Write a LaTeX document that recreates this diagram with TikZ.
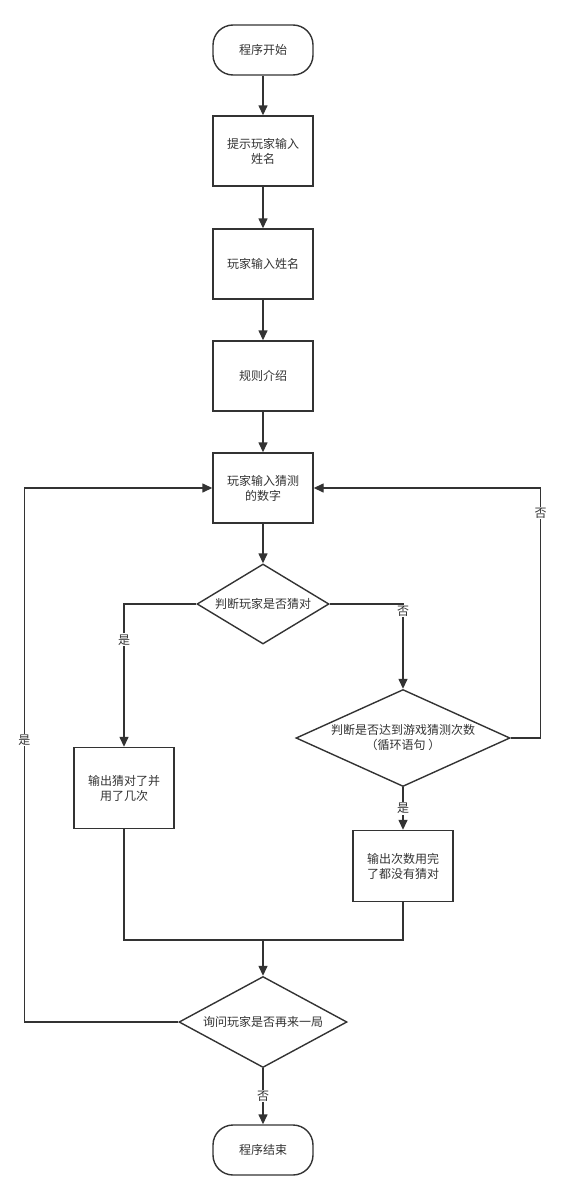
\documentclass[tikz,border=0pt]{standalone}
\usepackage{fontspec}
\setmainfont{Noto Sans CJK SC}
\usepackage{tikz}
\usetikzlibrary{calc,arrows.meta,shapes.geometric}
\definecolor{ink}{HTML}{333333}

\tikzset{
    every node/.style={text=ink,font=\fontsize{12}{15}\selectfont},
    box/.style={draw=ink,line width=1.4pt,minimum width=100pt,minimum height=70pt,align=center,inner sep=0pt},
    term/.style={draw=ink,line width=1.4pt,minimum width=100pt,minimum height=50pt,rounded corners=20pt},
    decide/.style={draw=ink,line width=1.4pt,diamond,inner sep=0pt,align=center},
    flow/.style={draw=ink,line width=1.4pt,-{Triangle[length=10pt,width=9pt]}},
    lnk/.style={draw=ink,line width=1.4pt},
    tag/.style={fill=white,inner sep=1pt}
}

\begin{document}
\begin{tikzpicture}[x=1pt,y=-1pt]
    \useasboundingbox (0,0) rectangle (564,1199);

    \node[term] (start) at (263,50) {程序开始};
    \node[box] (hint) at (263,151) {提示玩家输入\\姓名};
    \node[box] (name) at (263,264) {玩家输入姓名};
    \node[box] (rule) at (263,376) {规则介绍};
    \node[box] (guess) at (263,488) {玩家输入猜测\\的数字};
    \node[decide,shape aspect=1.65,minimum width=132pt,minimum height=80pt] (right) at (263,604) {判断玩家是否猜对};
    \node[decide,shape aspect=2.2,minimum width=214pt,minimum height=97pt] (limit) at (403,738) {判断是否达到游戏猜测次数\\（循环语句 ）};
    \node[box,minimum height=81pt] (win) at (124,788) {输出猜对了并\\用了几次};
    \node[box,minimum height=71pt] (lose) at (403,866) {输出次数用完\\了都没有猜对};
    \node[decide,shape aspect=1.85,minimum width=168pt,minimum height=91pt] (again) at (263,1022) {询问玩家是否再来一局};
    \node[term] (stop) at (263,1150) {程序结束};
    \coordinate (merge) at (263,940);

    % main column
    \draw[flow] (start) -- (hint);
    \draw[flow] (hint) -- (name);
    \draw[flow] (name) -- (rule);
    \draw[flow] (rule) -- (guess);
    \draw[flow] (guess) -- (right);

    % branches
    \draw[flow] (right.west) -| node[tag,pos=0.625] {是} (win.north);
    \draw[flow] (right.east) -| node[tag,pos=0.54] {否} (limit.north);
    \draw[flow] (limit.east) -- ++(30,0) |- node[tag,pos=0.45] {否} (guess.east);
    \draw[flow] (limit.south) -- node[tag] {是} (lose.north);

    \draw[lnk] (win.south) |- (merge);
    \draw[lnk] (lose.south) |- (merge);
    \draw[flow] (merge) -- (again.north);

    \draw[flow] (again.west) -- ++(-154,0) |- node[tag,pos=0.264] {是} (guess.west);
    \draw[flow] (again.south) -- node[tag] {否} (stop.north);

\end{tikzpicture}
\end{document}
